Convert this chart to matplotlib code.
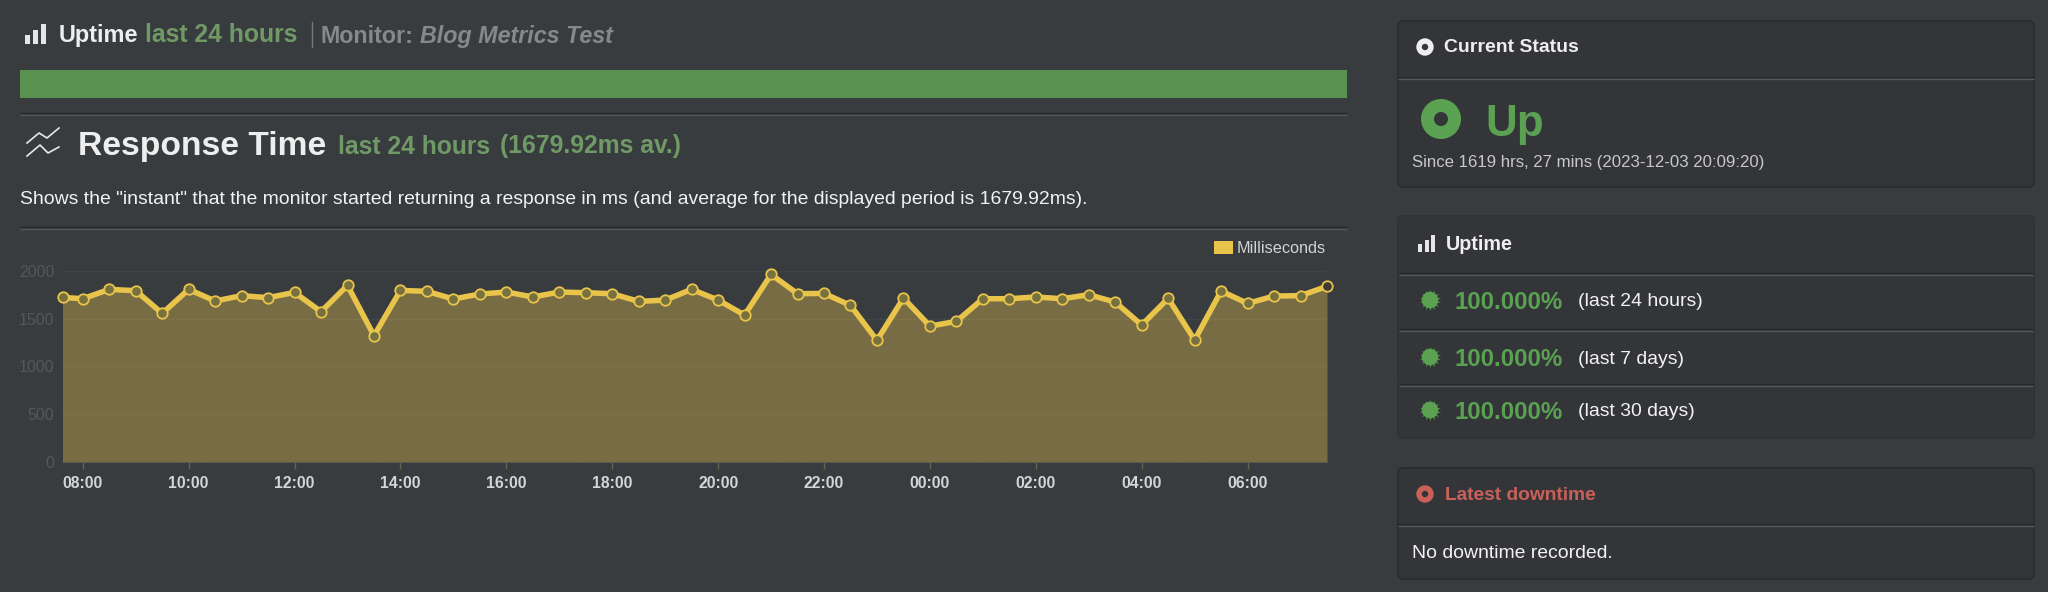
import matplotlib
matplotlib.use("Agg")
import matplotlib.pyplot as plt
import matplotlib.dates as mdates
from matplotlib.patches import Rectangle, FancyBboxPatch, Ellipse
import numpy as np
import pandas as pd

W, H = 2048, 592
BG = "#383c3f"
PANEL = "#333539"
YELLOW = "#e9c44b"
GREEN = "#5aa252"
SOFT_GREEN = "#6f9a66"

## chart data
first_time = "2024-02-08 07:37"
half_hours_start = "2024-02-08 08:00"
first_value = 1721
ms_values = [1707, 1805, 1791, 1554, 1805, 1683, 1739, 1718, 1773, 1571, 1847, 1320,
             1794, 1784, 1704, 1756, 1777, 1725, 1777, 1770, 1759, 1679, 1693, 1805,
             1693, 1536, 1961, 1759, 1763, 1637, 1272, 1714, 1421, 1470, 1707, 1707,
             1725, 1707, 1749, 1672, 1432, 1711, 1275, 1787, 1658, 1735, 1739, 1836]
y_ticks = [0, 500, 1000, 1500, 2000]
series_name = "Milliseconds"

uptime_rows = ["(last 24 hours)", "(last 7 days)", "(last 30 days)"]
uptime_pct = "100.000%"

times = [pd.Timestamp(first_time)] + list(pd.date_range(half_hours_start, periods=len(ms_values), freq="30min"))
values = np.array([first_value] + ms_values)

plt.rcParams["font.family"] = ["Liberation Sans", "DejaVu Sans"]


def px(size):
    # font size in pixels of the 100 dpi figure
    return size * 0.72


fig = plt.figure(figsize=(W / 100, H / 100), dpi=100, facecolor=BG)

## page layer, in pixel coordinates
page = fig.add_axes([0, 0, 1, 1], zorder=0)
page.set_xlim(0, W)
page.set_ylim(H, 0)
page.axis("off")


def hr(x0, x1, y):
    page.plot([x0, x1], [y, y], color="#26282a", lw=1.0, solid_capstyle="butt")
    page.plot([x0, x1], [y + 1.5, y + 1.5], color="#55585b", lw=1.0, solid_capstyle="butt")


def label(x, y, s, size, color="#e8e8e8", weight="normal", style="normal"):
    page.text(x, y, s, fontsize=px(size), color=color, fontweight=weight, fontstyle=style,
              ha="left", va="center_baseline")


def panel(y0, y1, edge):
    page.add_patch(FancyBboxPatch((1398, y0), 636, y1 - y0, boxstyle="round,pad=0,rounding_size=5",
                                  fc=PANEL, ec=edge, lw=1.2))


def bars_icon(x, y, color, scale=1.0):
    # little signal bars, y is the bottom
    for i, h in enumerate([8, 12, 17]):
        page.add_patch(Rectangle((x + i * 6.6 * scale, y - h * scale), 4.2 * scale, h * scale, fc=color, ec="none"))


def ring(x, y, r, color, hole):
    page.add_patch(Ellipse((x, y), 2 * r, 2 * r, fc=color, ec="none"))
    page.add_patch(Ellipse((x, y), 2 * hole, 2 * hole, fc=PANEL, ec="none"))


## left header
bars_icon(25, 44, "#e6e6e6", 1.18)
label(59, 33, "Uptime", 23.5, "#eeeeee", "bold")
label(145, 33, "last 24 hours", 24.8, SOFT_GREEN, "bold")
page.plot([312, 312], [22, 47], color="#77797b", lw=1)
label(320.5, 34, "Monitor:", 23.3, "#86898b", "bold")
label(420.5, 34, "Blog Metrics Test", 23.2, "#86898b", "bold", "italic")
page.add_patch(Rectangle((20, 70), 1327, 27.5, fc="#5a9150", ec="none"))
hr(20, 1347, 113)

## response time icon
page.plot([27, 39, 47, 59], [143, 133, 138, 128], color="#e8e8e8", lw=1.2)
page.plot([27, 40, 48, 59], [156, 145, 153, 147], color="#e8e8e8", lw=1.2)
label(78, 143, "Response Time", 33.7, "#eeeeee", "bold")
label(338, 144, "last 24 hours", 24.6, SOFT_GREEN, "bold")
label(500, 144, "(1679.92ms av.)", 24.8, SOFT_GREEN, "bold")
label(20, 197, 'Shows the "instant" that the monitor started returning a response in ms '
               '(and average for the displayed period is 1679.92ms).', 19.4, "#f2f2f2")
hr(20, 1347, 227)

## right panels
panel(21, 187, "#2a2b2d")
hr(1398, 2034, 77)
ring(1425, 47, 8.7, "#eeeeee", 3.2)
label(1444, 46, "Current Status", 19.4, "#eeeeee", "bold")
ring(1441, 119, 20, GREEN, 7)
label(1485, 120, "Up", 44, GREEN, "bold")
label(1412, 161, "Since 1619 hrs, 27 mins (2023-12-03 20:09:20)", 16.7, "#c8c8c8")

panel(216, 438, "#303234")
hr(1399, 2033, 273)
bars_icon(1418, 252, "#e6e6e6", 1.0)
label(1446, 243, "Uptime", 19.8, "#eeeeee", "bold")
hr(1399, 2033, 329)
hr(1399, 2033, 384)
for row_y, row_text in zip([300, 357, 410], uptime_rows):
    # a disc with a short saw edge
    page.scatter([1430], [row_y], marker=(14, 1, 0), s=240, color=GREEN, linewidths=0)
    page.add_patch(Ellipse((1430, row_y), 16.5, 16.5, fc=GREEN, ec="none"))
    label(1454.5, row_y, uptime_pct, 24, GREEN, "bold")
    label(1578, row_y, row_text, 19.4, "#f2f2f2")

panel(468, 579, "#2a2b2d")
hr(1398, 2034, 524)
ring(1425, 494, 8.7, "#c9605a", 3.2)
label(1445, 494, "Latest downtime", 19.2, "#c9605a", "bold")
label(1412, 551, "No downtime recorded.", 19.4, "#f2f2f2")

## chart layer
left, right, top, bottom = 62.5, 1327, 270.7, 462
ax = fig.add_axes([left / W, 1 - bottom / H, (right - left) / W, (bottom - top) / H], zorder=1)
ax.patch.set_alpha(0)
ax.grid(axis="y", color="#ffffff", alpha=0.07, lw=1, ls=(0, (2, 1)), zorder=1)
ax.fill_between(times, values, 0, color=YELLOW, alpha=0.36, lw=0, zorder=2)
ax.plot(times, values, color=YELLOW, lw=px(5.5), solid_joinstyle="miter", zorder=3, clip_on=False)
ax.plot(times[:-1], values[:-1], ls="none", marker="o", ms=px(10.5), mfc="#77703f", mec=YELLOW, mew=px(1.8),
        zorder=4, clip_on=False)
ax.plot(times[-1:], values[-1:], ls="none", marker="o", ms=px(10.5), mfc="#3c3c38", mec=YELLOW, mew=px(1.8),
        zorder=4, clip_on=False)
ax.set_xlim(times[0], times[-1])
ax.set_ylim(0, 2000)
ax.set_yticks(y_ticks)
ax.xaxis.set_major_locator(mdates.HourLocator(byhour=range(0, 24, 2)))
ax.xaxis.set_major_formatter(mdates.DateFormatter("%H:%M"))
for side in ["top", "right", "left"]:
    ax.spines[side].set_visible(False)
ax.spines["bottom"].set_color("#5b5a4c")
ax.tick_params(axis="y", length=0, pad=6, labelcolor="#55585a", labelsize=px(16))
ax.tick_params(axis="x", length=px(7), width=1, color="#6a6450", pad=px(7), labelcolor="#d6d6d6", labelsize=px(15.7))
for t in ax.get_xticklabels():
    t.set_fontweight("bold")

## legend
page.add_patch(Rectangle((1214, 241), 19, 13, fc=YELLOW, ec="none"))
label(1237, 247, series_name, 16.3, "#d2d2d2")

fig.savefig("out.png", dpi=100, facecolor=BG)
